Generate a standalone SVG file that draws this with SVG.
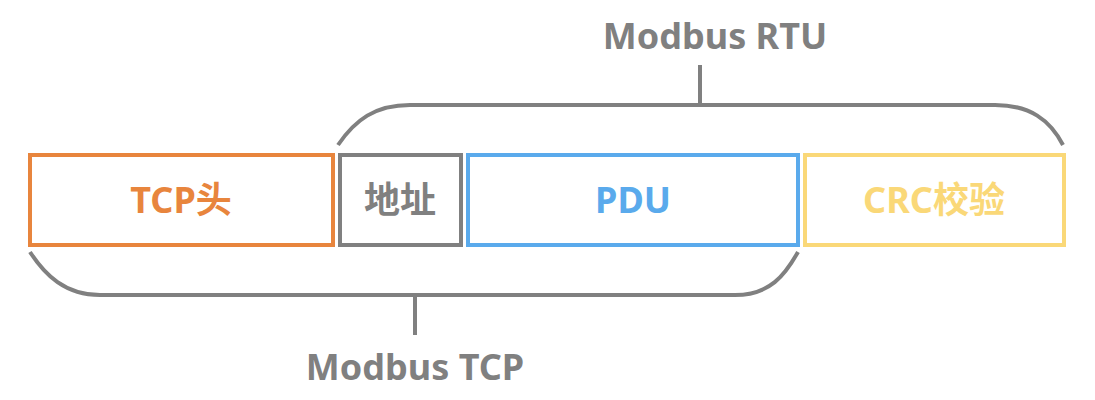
<svg xmlns="http://www.w3.org/2000/svg" width="1095" height="400" viewBox="0 0 1095 400">
<style>
.b{fill:#fff;stroke-width:4}
.t{font-family:"Noto Sans","Noto Sans CJK SC",sans-serif;font-weight:bold;font-size:36px;text-anchor:middle}
.c{fill:none;stroke:#808080;stroke-width:4}
</style>
<rect width="1095" height="400" fill="#fff"/>
<g id="tcp"><rect class="b" x="30" y="155" width="303" height="90" stroke="#E8853D"/><text class="t" x="181" y="213" fill="#E8853D">TCP头</text></g>
<g id="addr"><rect class="b" x="340" y="155" width="121" height="90" stroke="#808080"/><text class="t" x="400" y="213" fill="#808080">地址</text></g>
<g id="pdu"><rect class="b" x="468" y="155" width="330" height="90" stroke="#5AAAEC"/><text class="t" x="633" y="213" fill="#5AAAEC">PDU</text></g>
<g id="crc"><rect class="b" x="805" y="155" width="259" height="90" stroke="#FAD878"/><text class="t" x="934" y="213" fill="#FAD878">CRC校验</text></g>
<g id="connectors">
<path class="c" d="M338 145 C355 120 375 105 410 105 L995 105 C1030 105 1050 120 1063 145"/>
<path class="c" d="M700 105 V65"/>
<path class="c" d="M30 252 C45 275 65 295 100 295 L735 295 C770 295 785 275 798 252"/>
<path class="c" d="M415 295 V335"/>
</g>
<text class="t" x="715" y="49" fill="#808080">Modbus RTU</text>
<text class="t" x="415" y="380" fill="#808080">Modbus TCP</text>
</svg>
